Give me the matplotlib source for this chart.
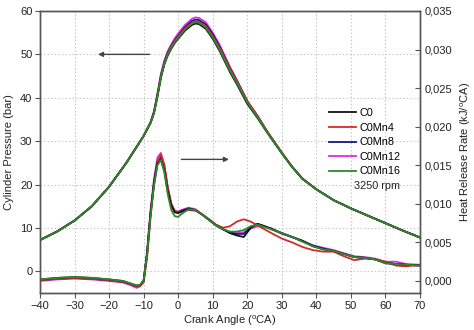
import matplotlib
matplotlib.use("Agg")
import matplotlib.pyplot as plt
from matplotlib.ticker import FuncFormatter, MultipleLocator

plt.rcParams['font.family'] = ['Liberation Sans', 'DejaVu Sans']
plt.rcParams['mathtext.fontset'] = 'custom'
plt.rcParams['mathtext.rm'] = 'Liberation Sans'

labels = ["C0", "C0Mn4", "C0Mn8", "C0Mn12", "C0Mn16"]
colors = ["#111111", "#d42a2a", "#14148c", "#e22ae2", "#2a8a2a"]

# Cylinder pressure (bar)
angle_p = [-40, -35, -30, -25, -20, -15, -10, -8, -7, -6, -5, -4, -3, -2, -1, 0,
           2, 4, 5, 6, 8, 10, 12, 15, 17, 20, 23, 26, 30, 33, 36, 40, 45, 50,
           55, 60, 65, 70]
p_c0 = [7.2, 9.2, 11.7, 15.0, 19.5, 25.0, 31.2, 34.2, 36.5, 40.3, 44.6, 47.7,
        49.8, 51.3, 52.6, 53.6, 55.5, 56.8, 57.1, 57.0, 55.9, 53.6, 50.8, 45.9,
        43.1, 38.6, 35.3, 31.7, 27.2, 24.0, 21.3, 18.9, 16.4, 14.5, 12.8,
        11.1, 9.4, 7.8]
p_c0mn4 = [7.2, 9.2, 11.7, 15.0, 19.5, 25.0, 31.2, 34.2, 36.6, 40.5, 44.9, 48.0,
           50.2, 51.7, 53.0, 54.1, 56.0, 57.3, 57.6, 57.5, 56.5, 54.2, 51.5, 46.6,
           43.8, 39.2, 35.8, 32.0, 27.4, 24.1, 21.4, 18.9, 16.4, 14.5, 12.8,
           11.1, 9.4, 7.8]
p_c0mn8 = [7.2, 9.2, 11.7, 15.0, 19.5, 25.0, 31.2, 34.3, 36.7, 40.7, 45.1, 48.2,
           50.4, 51.9, 53.2, 54.3, 56.3, 57.7, 58.0, 57.9, 56.9, 54.6, 51.8, 46.8,
           43.9, 39.2, 35.7, 31.9, 27.3, 24.1, 21.3, 18.9, 16.4, 14.5, 12.8,
           11.1, 9.4, 7.8]
p_c0mn12 = [7.2, 9.2, 11.7, 15.0, 19.5, 25.0, 31.2, 34.4, 36.9, 41.0, 45.5, 48.6,
            50.8, 52.3, 53.7, 54.8, 56.8, 58.2, 58.5, 58.4, 57.4, 55.0, 52.2, 47.1,
            44.1, 39.3, 35.8, 31.9, 27.3, 24.1, 21.3, 18.9, 16.4, 14.5, 12.8,
            11.1, 9.4, 7.8]
p_c0mn16 = [7.2, 9.2, 11.7, 15.0, 19.5, 25.0, 31.2, 34.2, 36.5, 40.3, 44.7, 47.8,
            50.0, 51.5, 52.8, 53.8, 55.8, 57.1, 57.4, 57.3, 56.2, 53.9, 51.1, 46.2,
            43.4, 38.9, 35.5, 31.8, 27.2, 24.0, 21.3, 18.9, 16.4, 14.5, 12.8,
            11.1, 9.4, 7.8]

# Heat release rate (kJ/°CA)
angle_h = [-40, -35, -30, -25, -20, -16, -14, -12, -11, -10, -9, -8, -7, -6, -5,
           -4, -3, -2, -1, 0, 1, 3, 5, 7, 9, 11, 13, 15, 17, 19, 21, 23, 25, 27,
           30, 33, 36, 39, 42, 45, 48, 51, 54, 57, 60, 63, 66, 70]
h_c0 = [0.0002, 0.0004, 0.0005, 0.0004, 0.0002, 0.0000, -0.0003, -0.0006,
        -0.0005, 0.0001, 0.0036, 0.0088, 0.0126, 0.0152, 0.0157, 0.0143,
        0.0116, 0.0098, 0.0089, 0.0088, 0.0090, 0.0093, 0.0092, 0.0086,
        0.0079, 0.0072, 0.0067, 0.0062, 0.0059, 0.0057, 0.0069, 0.0074,
        0.0071, 0.0067, 0.0062, 0.0057, 0.0052, 0.0045, 0.0041, 0.0039,
        0.0035, 0.0031, 0.0030, 0.0028, 0.0023, 0.0022, 0.0021, 0.0020]
h_c0mn4 = [0.0001, 0.0003, 0.0004, 0.0003, 0.0001, -0.0001, -0.0004, -0.0007,
           -0.0006, -0.0002, 0.0030, 0.0082, 0.0125, 0.0155, 0.0164, 0.0150,
           0.0121, 0.0100, 0.0091, 0.0089, 0.0090, 0.0092, 0.0091, 0.0086,
           0.0080, 0.0073, 0.0069, 0.0071, 0.0077, 0.0080, 0.0077, 0.0072,
           0.0067, 0.0062, 0.0055, 0.0050, 0.0044, 0.0040, 0.0038, 0.0038,
           0.0032, 0.0027, 0.0029, 0.0028, 0.0025, 0.0020, 0.0019, 0.0021]
h_c0mn8 = [0.0001, 0.0003, 0.0004, 0.0003, 0.0001, -0.0001, -0.0004, -0.0007,
           -0.0006, 0.0000, 0.0036, 0.0088, 0.0128, 0.0155, 0.0160, 0.0146,
           0.0118, 0.0099, 0.0090, 0.0089, 0.0091, 0.0094, 0.0092, 0.0086,
           0.0079, 0.0072, 0.0067, 0.0063, 0.0061, 0.0061, 0.0070, 0.0074,
           0.0071, 0.0068, 0.0062, 0.0057, 0.0052, 0.0046, 0.0042, 0.0039,
           0.0035, 0.0031, 0.0030, 0.0028, 0.0024, 0.0022, 0.0021, 0.0020]
h_c0mn12 = [0.0000, 0.0002, 0.0003, 0.0002, 0.0000, -0.0002, -0.0005, -0.0009,
            -0.0007, 0.0000, 0.0038, 0.0092, 0.0132, 0.0160, 0.0166, 0.0150,
            0.0121, 0.0100, 0.0091, 0.0090, 0.0092, 0.0095, 0.0093, 0.0086,
            0.0079, 0.0072, 0.0067, 0.0063, 0.0062, 0.0063, 0.0068, 0.0071,
            0.0070, 0.0068, 0.0061, 0.0057, 0.0051, 0.0046, 0.0043, 0.0040,
            0.0036, 0.0032, 0.0031, 0.0029, 0.0025, 0.0025, 0.0022, 0.0021]
h_c0mn16 = [0.0002, 0.0004, 0.0005, 0.0004, 0.0002, 0.0000, -0.0003, -0.0006,
            -0.0005, 0.0001, 0.0034, 0.0085, 0.0124, 0.0150, 0.0157, 0.0141,
            0.0112, 0.0092, 0.0084, 0.0083, 0.0087, 0.0093, 0.0092, 0.0086,
            0.0079, 0.0072, 0.0067, 0.0064, 0.0064, 0.0066, 0.0071, 0.0073,
            0.0070, 0.0067, 0.0062, 0.0057, 0.0051, 0.0045, 0.0041, 0.0039,
            0.0035, 0.0031, 0.0030, 0.0028, 0.0023, 0.0022, 0.0021, 0.0020]

pressures = [p_c0, p_c0mn4, p_c0mn8, p_c0mn12, p_c0mn16]
hrrs = [h_c0, h_c0mn4, h_c0mn8, h_c0mn12, h_c0mn16]
draw_order = [3, 2, 1, 0, 4]

spine_col = "#555555"
txt_col = "#222222"
fs = 8

fig = plt.figure(figsize=(4.74, 3.30), dpi=100)
ax = fig.add_axes([0.0844, 0.1121, 0.8016, 0.8546])
ax2 = ax.twinx()

for i in draw_order:
    ax.plot(angle_p, pressures[i], color=colors[i], lw=1.3, zorder=3)
for i in draw_order:
    ax2.plot(angle_h, hrrs[i], color=colors[i], lw=1.3)

ax.set_xlim(-40, 70)
ax.set_ylim(-5, 60)
ax2.set_ylim(-0.00156, 0.035)

ax.xaxis.set_major_locator(MultipleLocator(10))
ax.yaxis.set_major_locator(MultipleLocator(10))
ax2.yaxis.set_major_locator(MultipleLocator(0.005))
ax2.yaxis.set_major_formatter(FuncFormatter(lambda v, _: f"{v:.3f}".replace(".", ",")))

ax.grid(True, color="#c4c4c4", linestyle=(0, (1.2, 2.0)), lw=0.8)
ax.set_axisbelow(True)

ax.tick_params(axis="both", direction="out", length=3.5, width=0.8,
               colors=spine_col, labelcolor=txt_col, labelsize=fs, pad=2)
ax2.tick_params(axis="y", direction="in", length=3.5, width=0.8,
                colors=spine_col, labelcolor=txt_col, labelsize=fs, pad=3)
for a in (ax, ax2):
    for s in a.spines.values():
        s.set_color(spine_col)
        s.set_linewidth(1.0)

ax.set_xlabel("Crank Angle ($^{\\mathrm{o}}$CA)", fontsize=fs, color=txt_col, labelpad=2)
ax.set_ylabel("Cylinder Pressure (bar)", fontsize=fs, color=txt_col, labelpad=4)
ax2.set_ylabel("Heat Release Rate (kJ/$^{\\mathrm{o}}$CA)", fontsize=fs,
               color=txt_col, labelpad=5)

# direction arrows: pressure -> left axis, heat release -> right axis
arrow_kw = dict(arrowstyle="-|>", color="#444444", lw=1.0, mutation_scale=7)
ax.annotate("", xy=(-24, 50), xytext=(-7.5, 50), arrowprops=arrow_kw)
ax.annotate("", xy=(15.5, 25.8), xytext=(0.1, 25.8), arrowprops=arrow_kw)

handles = [plt.Line2D([], [], color=c, lw=1.3) for c in colors]
ax2.legend(handles, labels, loc="upper left", bbox_to_anchor=(0.76, 0.655),
           frameon=False, fontsize=7.8, handlelength=2.5, handletextpad=0.3,
           labelspacing=0.42, borderpad=0.0, borderaxespad=0.0)
ax.text(57.5, 19.6, "3250 rpm", fontsize=7.8, color=txt_col, ha="center", va="center")

fig.savefig("out.png", dpi=100)
